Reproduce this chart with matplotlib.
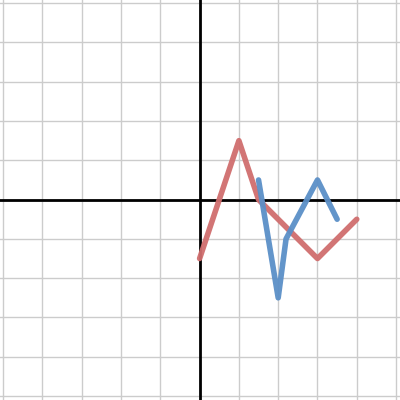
import matplotlib
matplotlib.use("Agg")
import matplotlib.pyplot as plt
import numpy as np

red_x = [0, 1, 1.5, 3, 4]
red_y = [-1.5, 1.5, 0, -1.5, -0.5]
blue_x = [1.5, 2, 2.2, 3, 3.5]
blue_y = [0.5, -2.5, -1, 0.5, -0.5]

fig = plt.figure(figsize=(4, 4), dpi=100)
ax = fig.add_axes([0, 0, 1, 1])
ax.set_xlim(-5.08, 5.1)
ax.set_ylim(-5.1, 5.08)
for v in range(-5, 6):
    ax.axvline(v, color='#cccccc', lw=1, zorder=0)
    ax.axhline(v, color='#cccccc', lw=1, zorder=0)
ax.axvline(0, color='black', lw=2, zorder=1)
ax.axhline(0, color='black', lw=2, zorder=1)
ax.plot(red_x, red_y, color='#d06e6e', lw=4, alpha=0.95, solid_capstyle='round', solid_joinstyle='round', zorder=2)
ax.plot(blue_x, blue_y, color='#5b8fc7', lw=4, alpha=0.95, solid_capstyle='round', solid_joinstyle='round', zorder=3)
ax.set_xticks([]); ax.set_yticks([])
for s in ax.spines.values():
    s.set_visible(False)
fig.savefig("out.png", dpi=100)
